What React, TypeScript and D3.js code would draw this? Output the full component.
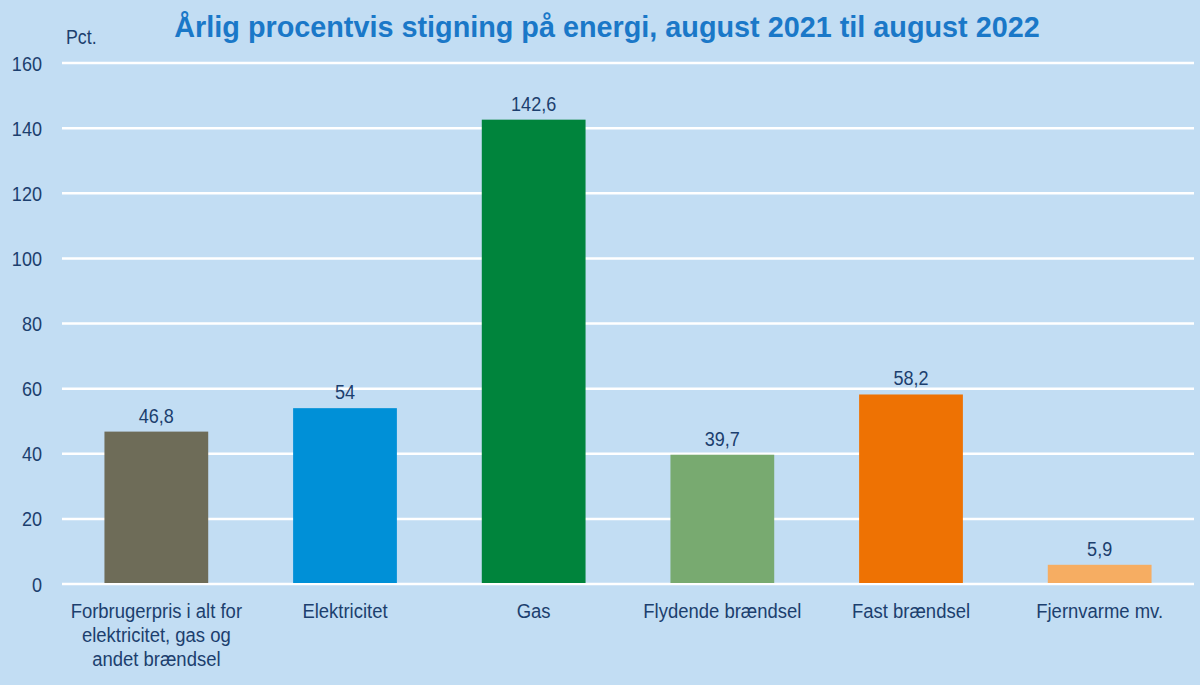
import React from "react";
import * as d3 from "d3";

const categories: string[][] = [
  ["Forbrugerpris i alt for", "elektricitet, gas og", "andet brændsel"],
  ["Elektricitet"],
  ["Gas"],
  ["Flydende brændsel"],
  ["Fast brændsel"],
  ["Fjernvarme mv."],
];
const values: number[] = [46.8, 54, 142.6, 39.7, 58.2, 5.9];
const valueLabels: string[] = ["46,8", "54", "142,6", "39,7", "58,2", "5,9"];
const barColors: string[] = ["#6e6c58", "#0090d7", "#00843c", "#78aa70", "#ee7203", "#f6ad62"];
const yTicks: number[] = [0, 20, 40, 60, 80, 100, 120, 140, 160];

const W = 1200;
const H = 685;
const left = 62;
const right = 1194;
const top = 63;
const bottom = 584;
const textColor = "#1c3f6e";
const font = "'Liberation Sans', Arial, sans-serif";

function T({
  x,
  y,
  anchor = "start",
  size = 21,
  sx = 0.86,
  fill = textColor,
  weight = "normal",
  children,
}: {
  x: number;
  y: number;
  anchor?: string;
  size?: number;
  sx?: number;
  fill?: string;
  weight?: string;
  children: React.ReactNode;
}) {
  return (
    <g transform={`translate(${x},${y}) scale(${sx},1)`}>
      <text x={0} y={0} textAnchor={anchor} fontSize={size} fill={fill} fontWeight={weight}>
        {children}
      </text>
    </g>
  );
}

export default function App() {
  const x = d3
    .scaleBand<number>()
    .domain(values.map((_, i) => i))
    .range([left, right])
    .paddingInner(0.45)
    .paddingOuter(0.225);
  const y = d3.scaleLinear().domain([0, 160]).range([bottom, top]);

  return (
    <svg
      width={W}
      height={H}
      style={{ position: "absolute", left: 0, top: 0, display: "block" }}
      fontFamily={font}
    >
      <rect x={0} y={0} width={W} height={H} fill="#c2ddf3" />
      <T x={607} y={37} anchor="middle" size={30} sx={0.96} fill="#1a78c8" weight="bold">
        Årlig procentvis stigning på energi, august 2021 til august 2022
      </T>
      <T x={66} y={44} size={20} sx={0.89}>
        Pct.
      </T>
      {yTicks.map((t) => (
        <g key={t}>
          <line x1={left} x2={right} y1={y(t)} y2={y(t)} stroke="#ffffff" strokeWidth={2.5} />
          <T x={42} y={y(t) + 7.5} anchor="end">
            {t}
          </T>
        </g>
      ))}
      {values.map((v, i) => {
        const cx = (x(i) as number) + x.bandwidth() / 2;
        return (
          <g key={i}>
            <rect
              x={x(i)}
              y={y(v)}
              width={x.bandwidth()}
              height={y(0) - y(v) - 1}
              fill={barColors[i]}
            />
            <T x={cx} y={y(v) - 9} anchor="middle">
              {valueLabels[i]}
            </T>
            {categories[i].map((line, j) => (
              <T key={j} x={cx} y={617.5 + j * 24} anchor="middle" sx={0.88}>
                {line}
              </T>
            ))}
          </g>
        );
      })}
    </svg>
  );
}
